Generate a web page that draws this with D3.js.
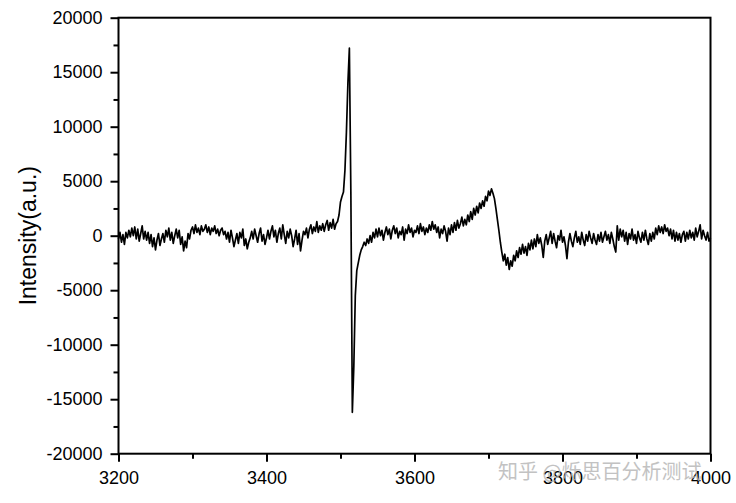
<!DOCTYPE html>
<html>
<head>
<meta charset="utf-8">
<script src="https://cdn.jsdelivr.net/npm/d3@7/dist/d3.min.js"></script>
<style>
  body { margin: 0; background: #fff; }
  svg { display: block; }
  .axis text { font-family: "Liberation Sans", Arial, sans-serif; font-size: 18px; fill: #000; }
  .axis path, .axis line { stroke: #000; }
</style>
</head>
<body>
<script>
// EPR spectrum: intensity vs field (G), sampled every 2 G from 3200 to 4000

var xTicks = [3200, 3400, 3600, 3800, 4000];
var xMinor = [3300, 3500, 3700, 3900];
var yTicks = [-20000, -15000, -10000, -5000, 0, 5000, 10000, 15000, 20000];
var yMinor = [-17500, -12500, -7500, -2500, 2500, 7500, 12500, 17500];

// 3200 - 3494
var baselineLow = [
  -300, 300, -600, 100, -800, 300, -200, 500, -100, 700,
  0, 800, -300, 600, -500, 200, 900, -300, 400, -400,
  300, -700, 100, -1000, -200, -1300, -400, 200, -900, -300,
  200, -600, 500, -100, 700, -400, 300, -700, 0, 600,
  -200, 500, -800, -100, -1400, -500, -1100, 200, -300, 500,
  800, 200, 1000, 300, 700, 100, 900, 400, 600, 1000,
  300, 800, 100, 700, 400, 900, 200, 600, 0, 500,
  700, 100, 400, -300, 300, -600, 500, -200, -1000, -400,
  200, -700, 300, -200, 600, -900, -300, -1200, -600, -200,
  400, -300, 600, 0, -600, 200, 700, -500, 100, -800,
  -200, 500, -300, 400, 900, -100, 500, -600, 200, 700,
  -300, 1000, 100, -700, 400, -200, 600, 0, -1000, -300,
  500, -800, 200, -1400, -400, 400, 100, 700, -200, 600,
  1000, 200, 800, 400, 1300, 300, 900, 500, 1100, 400,
  1000, 1400, 500, 1200, 700, 1500, 600, 1100
];
// 3496 - 3540
var mainSignal = [
  1300, 1900, 3100, 3600, 4000, 6000, 9500, 14000, 17200, 4000,
  -16200, -12000, -5500, -3200, -2500, -1800, -1300, -1000, -600, -900,
  -300, -700, 0
];
// 3542 - 3668
var baselineMid = [
  -600, 300, -200, 600, -100, 700, 0, 500, -400, 300,
  800, 100, 600, -300, 500, 900, 200, 700, -200, 400,
  100, 800, -400, 600, 200, 1000, 300, 700, -100, 500,
  300, 900, 200, 1100, 400, 800, 100, 700, 300, 1000,
  500, 1300, 600, 1000, 300, 800, -200, 600, 200, 900,
  400, -500, 700, 100, 1000, 300, 1200, 500, 1400, 700,
  1100, 1700, 900, 1500
];
// 3670 - 3760
var secondSignal = [
  1000, 1900, 1300, 2200, 1500, 2500, 1900, 2700, 2100, 3000,
  2500, 3200, 2700, 3600, 3200, 4100, 3700, 4300, 3900, 3400,
  2500, 1500, 500, -600, -1500, -2300, -1700, -2700, -2000, -3100,
  -2300, -2800, -1800, -2300, -1400, -2000, -1100, -1700, -800, -1600,
  -1000, -1800, -700, -1300, -400, -1200
];
// 3762 - 4000
var baselineHigh = [
  -300, -1000, 100, -700, -200, -900, -2000, -500, 100, -800,
  -200, 400, -700, 200, -500, -1100, 0, -400, 500, -600,
  -100, -900, -2100, -600, 200, -500, -1000, -200, 400, -600,
  -100, -800, 300, -400, -900, 100, -500, 400, -200, -700,
  200, -400, -800, 100, -500, 300, -600, -100, 400, -400,
  100, -700, 300, -300, -1000, -1500, 900, -400, 600, -100,
  500, -500, 300, -800, 200, -300, 600, -400, 100, -700,
  400, -200, -600, 300, -400, 500, -300, -800, 200, -500,
  300, -300, 700, 100, 900, 300, 800, 200, 1000, 400,
  700, 0, 600, -300, 500, -500, 300, -400, 200, -600,
  100, 400, -500, 300, -300, 500, -200, 300, -400, 700,
  -100, 400, 1000, -300, 500, 0, -400, 300, -500, -200
];

var intensity = baselineLow.concat(mainSignal, baselineMid, secondSignal, baselineHigh);
var field = d3.range(3200, 4001, 2);
var data = field.map(function(f, i) { return {field: f, value: intensity[i]}; });

var width = 736, height = 503;
var plotLeft = 118.5, plotRight = 710.5, plotTop = 17.7, plotBottom = 453.7;

var svg = d3.select("body").append("svg")
    .attr("width", width)
    .attr("height", height);

var xScale = d3.scaleLinear().domain([3200, 4000]).range([plotLeft, plotRight]);
var yScale = d3.scaleLinear().domain([-20000, 20000]).range([plotBottom, plotTop]);

// minor ticks
svg.append("g")
    .attr("class", "axis")
    .attr("transform", "translate(0," + plotBottom + ")")
    .call(d3.axisBottom(xScale).tickValues(xMinor).tickSize(5).tickSizeOuter(0).tickFormat(""))
    .call(function(g) { g.select(".domain").remove(); })
    .selectAll("line").attr("stroke-width", 2);

svg.append("g")
    .attr("class", "axis")
    .attr("transform", "translate(" + plotLeft + ",0)")
    .call(d3.axisLeft(yScale).tickValues(yMinor).tickSize(5).tickSizeOuter(0).tickFormat(""))
    .call(function(g) { g.select(".domain").remove(); })
    .selectAll("line").attr("stroke-width", 2);

// major ticks + labels
var xAxis = svg.append("g")
    .attr("class", "axis")
    .attr("transform", "translate(0," + plotBottom + ")")
    .call(d3.axisBottom(xScale).tickValues(xTicks).tickSize(8).tickSizeOuter(0).tickPadding(10)
      .tickFormat(function(d) { return String(d); }));
xAxis.selectAll("line").attr("stroke-width", 2);
xAxis.select(".domain").remove();

var yAxis = svg.append("g")
    .attr("class", "axis")
    .attr("transform", "translate(" + plotLeft + ",0)")
    .call(d3.axisLeft(yScale).tickValues(yTicks).tickSize(8).tickSizeOuter(0).tickPadding(8)
      .tickFormat(function(d) { return String(d); }));
yAxis.selectAll("line").attr("stroke-width", 2);
yAxis.select(".domain").remove();

// frame
svg.append("rect")
    .attr("x", plotLeft)
    .attr("y", plotTop)
    .attr("width", plotRight - plotLeft)
    .attr("height", plotBottom - plotTop)
    .attr("fill", "none")
    .attr("stroke", "#000")
    .attr("stroke-width", 2);

// spectrum line
var line = d3.line()
    .x(function(d) { return xScale(d.field); })
    .y(function(d) { return yScale(d.value); });

svg.append("path")
    .datum(data)
    .attr("fill", "none")
    .attr("stroke", "#000")
    .attr("stroke-width", 1.7)
    .attr("stroke-linejoin", "round")
    .attr("d", line);

// y label
svg.append("text")
    .attr("transform", "translate(36," + yScale(0) + ") rotate(-90)")
    .attr("text-anchor", "middle")
    .style("font-family", "'Liberation Sans', Arial, sans-serif")
    .style("font-size", "23px")
    .text("Intensity(a.u.)");

// watermark
svg.append("text")
    .attr("x", 498)
    .attr("y", 479)
    .style("font-family", "'Noto Sans CJK SC', sans-serif")
    .style("font-size", "20px")
    .attr("fill", "#b4b4b4")
    .attr("opacity", 0.8)
    .text("知乎 @烁思百分析测试");
</script>
</body>
</html>
